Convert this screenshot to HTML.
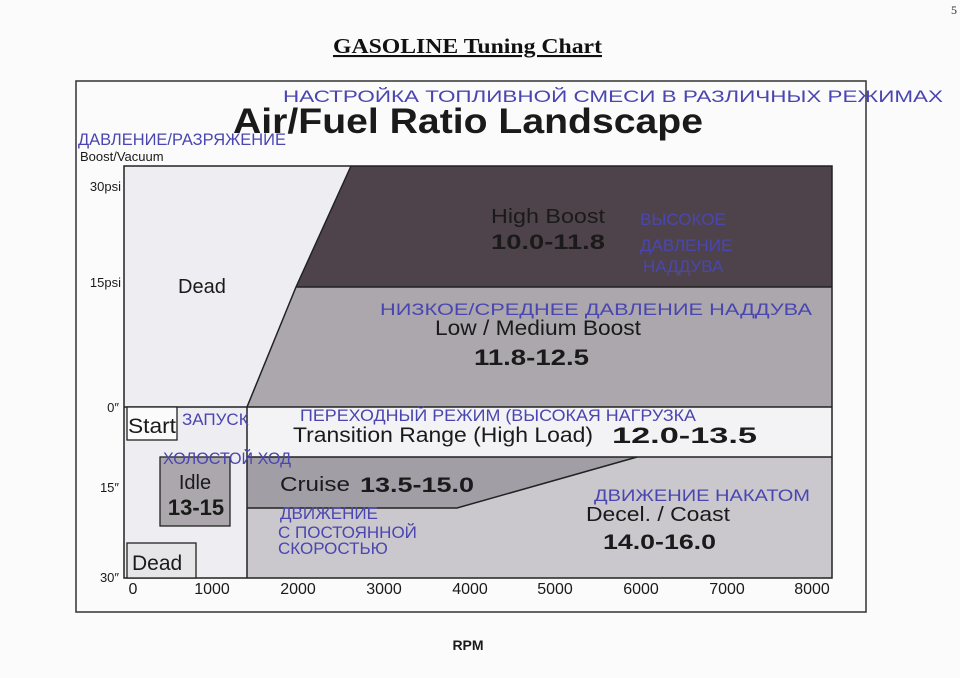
<!DOCTYPE html>
<html><head><meta charset="utf-8"><style>
body{margin:0;background:#fbfbfc;}
svg{display:block}
.h{font-family:"Liberation Sans","DejaVu Sans",sans-serif;fill:#4a46b0;font-size:17px;}
.t{font-family:"Liberation Sans",sans-serif;fill:#1a1a1a;}
</style></head><body>
<svg width="960" height="678" viewBox="0 0 960 678" xmlns="http://www.w3.org/2000/svg">
<rect width="960" height="678" fill="#fbfbfc"/>
<text x="951" y="14" font-family="Liberation Serif" font-size="12" fill="#333">5</text>
<text x="333" y="53" font-family="Liberation Serif" font-weight="bold" font-size="21" fill="#111" text-decoration="underline" textLength="269" lengthAdjust="spacingAndGlyphs">GASOLINE Tuning Chart</text>
<rect x="76" y="81" width="790" height="531" fill="none" stroke="#333" stroke-width="1.5"/>
<text x="233" y="133" class="t" font-weight="bold" font-size="35" textLength="470" lengthAdjust="spacingAndGlyphs">Air/Fuel Ratio Landscape</text>
<text x="80" y="161" class="t" font-size="13">Boost/Vacuum</text>
<rect x="124" y="166" width="708" height="412" fill="#eeedf1"/>
<polygon points="351,166 832,166 832,287 296,287" fill="#4f434b"/>
<polygon points="296,287 832,287 832,407 247,407" fill="#aba7ad"/>
<rect x="247" y="407" width="585" height="50" fill="#f3f2f5"/>
<rect x="247" y="457" width="585" height="121" fill="#cac8cd"/>
<polygon points="247,457 637,457 457,508 247,508" fill="#a29ea5"/>
<g stroke="#222" stroke-width="1.5" fill="none">
<rect x="124" y="166" width="708" height="412"/>
<line x1="124" y1="407" x2="832" y2="407"/>
<line x1="247" y1="457" x2="832" y2="457"/>
<polyline points="351,166 296,287 247,407 247,578"/>
<line x1="296" y1="287" x2="832" y2="287"/>
<polyline points="247,508 457,508 637,457"/>
</g>
<rect x="127" y="407" width="50" height="33" fill="#fbfbfc" stroke="#222" stroke-width="1.3"/>
<rect x="160" y="457" width="70" height="69" fill="#aba7ad" stroke="#222" stroke-width="1.3"/>
<rect x="127" y="543" width="69" height="35" fill="#e6e5e8" stroke="#222" stroke-width="1.3"/>
<g class="t" font-size="13" text-anchor="end">
<text x="121" y="191">30psi</text><text x="121" y="287">15psi</text>
<text x="119" y="412">0″</text><text x="119" y="492">15″</text><text x="119" y="582">30″</text>
</g>
<g class="t" font-size="16" text-anchor="middle">
<text x="133" y="594">0</text><text x="212" y="594">1000</text><text x="298" y="594">2000</text><text x="384" y="594">3000</text><text x="470" y="594">4000</text><text x="555" y="594">5000</text><text x="641" y="594">6000</text><text x="727" y="594">7000</text><text x="812" y="594">8000</text>
</g>
<text x="468" y="650" text-anchor="middle" class="t" font-weight="bold" font-size="14">RPM</text>
<text x="178" y="293" class="t" font-size="20">Dead</text>
<text x="491" y="223" class="t" font-size="20" fill="#222" textLength="114" lengthAdjust="spacingAndGlyphs">High Boost</text>
<text x="491" y="249" class="t" font-weight="bold" font-size="21" textLength="114" lengthAdjust="spacingAndGlyphs">10.0-11.8</text>
<text x="435" y="335" class="t" font-size="21" textLength="206" lengthAdjust="spacingAndGlyphs">Low / Medium Boost</text>
<text x="474" y="365" class="t" font-weight="bold" font-size="22" textLength="115" lengthAdjust="spacingAndGlyphs">11.8-12.5</text>
<text x="128" y="433" class="t" font-size="21" textLength="48" lengthAdjust="spacingAndGlyphs">Start</text>
<text x="293" y="442" class="t" font-size="21" textLength="300" lengthAdjust="spacingAndGlyphs">Transition Range (High Load)</text>
<text x="612" y="443" class="t" font-weight="bold" font-size="22" textLength="145" lengthAdjust="spacingAndGlyphs">12.0-13.5</text>
<text x="195" y="489" text-anchor="middle" class="t" font-size="20">Idle</text>
<text x="196" y="515" text-anchor="middle" class="t" font-weight="bold" font-size="22">13-15</text>
<text x="280" y="491" class="t" font-size="20" textLength="70" lengthAdjust="spacingAndGlyphs">Cruise</text>
<text x="360" y="492" class="t" font-weight="bold" font-size="21" textLength="114" lengthAdjust="spacingAndGlyphs">13.5-15.0</text>
<text x="586" y="521" class="t" font-size="20" textLength="144" lengthAdjust="spacingAndGlyphs">Decel. / Coast</text>
<text x="603" y="549" class="t" font-weight="bold" font-size="21" textLength="113" lengthAdjust="spacingAndGlyphs">14.0-16.0</text>
<text x="132" y="570" class="t" font-size="21">Dead</text>
<text x="283" y="102" class="h" textLength="660" lengthAdjust="spacingAndGlyphs">НАСТРОЙКА ТОПЛИВНОЙ СМЕСИ В РАЗЛИЧНЫХ РЕЖИМАХ</text>
<text x="78" y="145" class="h" font-size="14" textLength="208" lengthAdjust="spacingAndGlyphs">ДАВЛЕНИЕ/РАЗРЯЖЕНИЕ</text>
<text x="640" y="225" class="h">ВЫСОКОЕ</text>
<text x="640" y="251" class="h">ДАВЛЕНИЕ</text>
<text x="643" y="272" class="h" font-size="15">НАДДУВА</text>
<text x="380" y="315" class="h" textLength="432" lengthAdjust="spacingAndGlyphs">НИЗКОЕ/СРЕДНЕЕ ДАВЛЕНИЕ НАДДУВА</text>
<text x="182" y="425" class="h" font-size="14">ЗАПУСК</text>
<text x="300" y="421" class="h" font-size="15" textLength="396" lengthAdjust="spacingAndGlyphs">ПЕРЕХОДНЫЙ РЕЖИМ (ВЫСОКАЯ НАГРУЗКА</text>
<text x="163" y="464" class="h" font-size="14" textLength="128" lengthAdjust="spacingAndGlyphs">ХОЛОСТОЙ ХОД</text>
<text x="280" y="519" class="h">ДВИЖЕНИЕ</text>
<text x="278" y="538" class="h" font-size="14">С ПОСТОЯННОЙ</text>
<text x="278" y="554" class="h" font-size="14">СКОРОСТЬЮ</text>
<text x="594" y="501" class="h" textLength="216" lengthAdjust="spacingAndGlyphs">ДВИЖЕНИЕ НАКАТОМ</text>
</svg>
</body></html>
